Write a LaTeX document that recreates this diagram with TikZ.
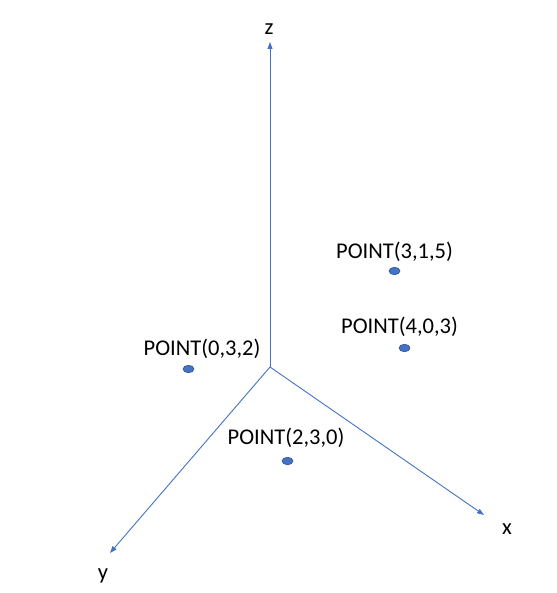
\documentclass[tikz,border=0pt]{standalone}
\usepackage{fontspec}
\setmainfont{Carlito}
\definecolor{achse}{HTML}{4472C4}
\definecolor{rand}{HTML}{2F528F}
\tikzset{
  achse/.style={color=achse, line width=0.9pt, -{Triangle[length=7pt,width=5pt]}},
  punkt/.style={ellipse, draw=rand, fill=achse, line width=0.6pt, minimum width=11pt, minimum height=7.5pt, inner sep=0pt},
  beschriftung/.style={font=\fontsize{22.5}{26}\selectfont, inner sep=0pt}
}
\usetikzlibrary{arrows.meta,shapes.geometric}
\begin{document}
\begin{tikzpicture}[x=1pt, y=-1pt]
    \useasboundingbox (0,0) rectangle (556,593);
    % Koordinatensystem
    \coordinate (O) at (270,367);
    \coordinate (zend) at (270,42);
    \coordinate (xend) at (484,515);
    \coordinate (yend) at (110,553);
    \draw[achse] (O) -- (zend);
    \draw[achse] (O) -- (xend);
    \draw[achse] (O) -- (yend);
    \node[beschriftung] (zlabel) at (269,29) {z};
    \node[beschriftung] (xlabel) at (507,529) {x};
    \node[beschriftung] (ylabel) at (103,576) {y};
    % Punkte einzeichnen
    \node[punkt] (p315) at (394.5,271) {};
    \node[beschriftung] (l315) at (394.5,252) {POINT(3,1,5)};
    \node[punkt] (p403) at (404.5,348) {};
    \node[beschriftung] (l403) at (399.5,327) {POINT(4,0,3)};
    \node[punkt] (p032) at (188.5,369) {};
    \node[beschriftung] (l032) at (202,349) {POINT(0,3,2)};
    \node[punkt] (p230) at (287.5,461) {};
    \node[beschriftung] (l230) at (286,438) {POINT(2,3,0)};
\end{tikzpicture}
\end{document}
